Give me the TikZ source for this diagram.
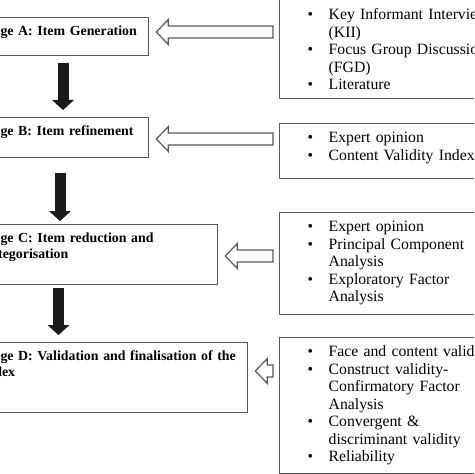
\documentclass[tikz,border=0pt]{standalone}
\usepackage{fontspec}
\setmainfont{Liberation Serif}
\usetikzlibrary{arrows.meta,calc}
\definecolor{edgegray}{gray}{0.35}
\begin{document}
\begin{tikzpicture}[x=0.75pt,y=-0.75pt,
    stage/.style={draw=edgegray, line width=1pt, anchor=north west, align=left,
        inner xsep=3.45pt, inner ysep=0pt, text height=13.5pt,
        font=\fontsize{10.4}{12}\selectfont\bfseries},
    source/.style={draw=edgegray, line width=1pt, anchor=north west, align=left,
        inner xsep=21pt, inner ysep=0pt, text height=14.25pt, text width=146.25pt,
        font=\fontsize{11.8}{13.1}\selectfont},
    down/.style={line width=8.25pt, draw=black!90,
        -{Triangle[length=7.5pt,width=16.5pt,line width=0pt]}},
    feed/.style={draw=edgegray, line width=0.9pt, fill=white, line join=miter}]
    \useasboundingbox (0,0) rectangle (474,474);
    \clip (0,0) rectangle (474,474);
    \fill[white] (0,0) rectangle (474,474);

    % stages
    \node[stage, text width=122.1pt, text depth=15pt] (stageA) at (-24,17)
        {Stage A: Item Generation};
    \node[stage, text width=122.1pt, text depth=16.5pt] (stageB) at (-24,117)
        {Stage B: Item refinement};
    \node[stage, text width=173.85pt, text depth=31.5pt] (stageC) at (-24,224)
        {Stage C: Item reduction and\\Categorisation};
    \node[stage, text width=196.35pt, text depth=39pt] (stageD) at (-24,342)
        {Stage D: Validation and finalisation of the\\Index};

    % sources
    \node[source, text height=17.25pt, text depth=59.25pt] (srcA) at (279,-4)
        {\begin{tabular}[t]{@{}p{15.75pt}@{}l@{}}
            \textbullet & Key Informant Interview\\
             & (KII)\\
            \textbullet & Focus Group Discussion\\
             & (FGD)\\
            \textbullet & Literature
        \end{tabular}};
    \node[source, text depth=27pt] (srcB) at (279,123)
        {\begin{tabular}[t]{@{}p{15.75pt}@{}l@{}}
            \textbullet & Expert opinion\\
            \textbullet & Content Validity Index
        \end{tabular}};
    \node[source, text depth=62.25pt] (srcC) at (279,212)
        {\begin{tabular}[t]{@{}p{15.75pt}@{}l@{}}
            \textbullet & Expert opinion\\
            \textbullet & Principal Component\\
             & Analysis\\
            \textbullet & Exploratory Factor\\
             & Analysis
        \end{tabular}};
    \node[source, text depth=87.75pt] (srcD) at (279,337)
        {\begin{tabular}[t]{@{}p{15.75pt}@{}l@{}}
            \textbullet & Face and content validity\\
            \textbullet & Construct validity-\\
             & Confirmatory Factor\\
             & Analysis\\
            \textbullet & Convergent \&\\
             & discriminant validity\\
            \textbullet & Reliability
        \end{tabular}};

    % flow down
    \foreach \a/\b/\xx/\s/\e in {stageA/stageB/63/5.25pt/5.25pt,
                                 stageB/stageC/60/11.25pt/2.25pt,
                                 stageC/stageD/58.5/2.25pt/5.25pt}
        \draw[down, shorten <=\s, shorten >=\e] (\a.south -| \xx,0) -- (\b.north -| \xx,0);

    % hollow arrows into stages
    \foreach \dst/\src/\yy in {stageA/srcA/32, stageB/srcB/139, stageC/srcC/256, stageD/srcD/371}
        \draw[feed] ($(\dst.east |- 0,\yy)+(7,0)$) coordinate (tip) -- ++(12,-12.5) -- ++(0,6.5)
            -- ($(\src.west |- 0,\yy)+(-6,-6)$) -- ++(0,12) -- ($(tip)+(12,6)$) -- ++(0,6.5) -- cycle;

\end{tikzpicture}
\end{document}
